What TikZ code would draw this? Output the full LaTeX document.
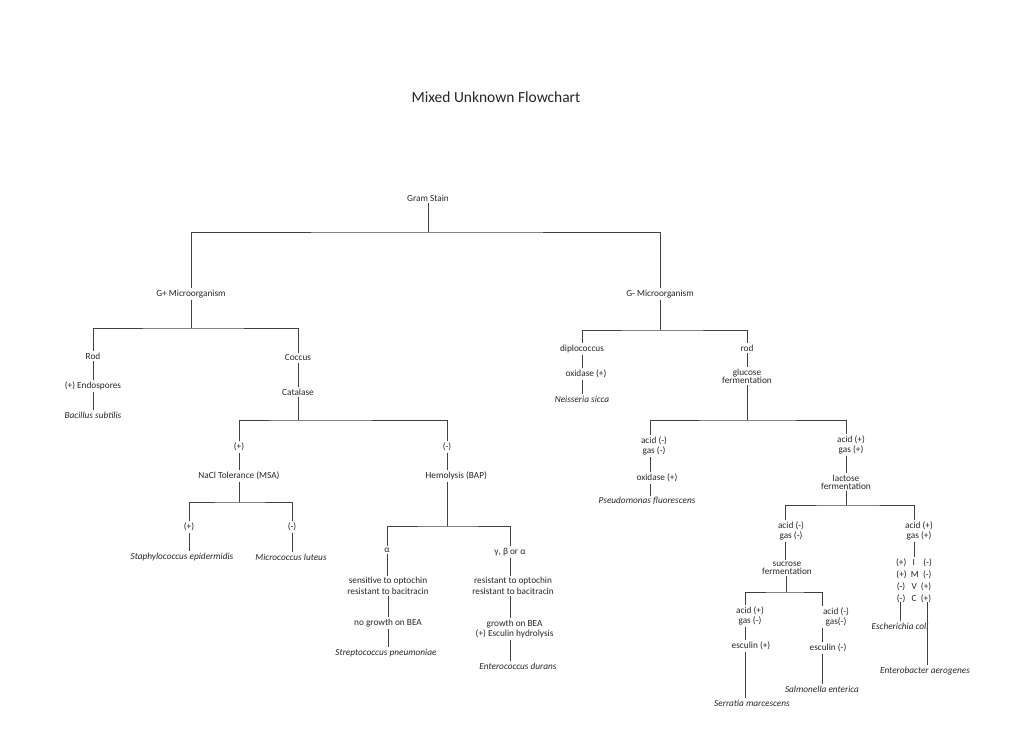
\documentclass[tikz,border=0pt]{standalone}
\usepackage{fontspec}
\setmainfont{Carlito}
\begin{document}
\begin{tikzpicture}[x=0.025cm,y=-0.025cm,
  every node/.style={font=\fontsize{6.6}{7.6}\selectfont, inner sep=1pt, align=center, text=black!85},
  sp/.style={font=\fontsize{6.6}{7.6}\selectfont\itshape},
  ln/.style={draw=black!75, line width=0.6pt}]
\useasboundingbox (0,0) rectangle (1024,729);
\node[font=\fontsize{11}{13}\selectfont] (title) at (496,97) {Mixed Unknown Flowchart};

% top levels
\node (gram) at (428,198) {Gram Stain};
\node (gpos) at (191,294) {G+ Microorganism};
\node (gneg) at (660,294) {G- Microorganism};
\coordinate (j1) at (428,232);
\draw[ln] (gram) -- (j1);
\draw[ln] (gpos.north) |- (j1) -| (gneg.north);

% gram positive
\node (rod) at (93,356) {Rod};
\node (coccus) at (298,358) {Coccus};
\coordinate (j2) at (191,328);
\draw[ln] (gpos) -- (j2);
\draw[ln] (rod.north) |- (j2) -| (coccus.north);
\node (endo) at (93,386) {(+) Endospores};
\node[sp] (bsub) at (93,415) {Bacillus subtilis};
\draw[ln] (rod) -- (endo);
\draw[ln] (endo) -- (bsub);
\node (cat) at (298,392) {Catalase};
\draw[ln] (coccus) -- (cat);
\node (catp) at (239,447) {(+)};
\node (catn) at (447,447) {(-)};
\coordinate (j3) at (298,420);
\draw[ln] (cat) -- (j3);
\draw[ln] (catp.north) |- (j3) -| (catn.north);
\node (nacl) at (239,476) {NaCl Tolerance (MSA)};
\node[anchor=west] (hemo) at (424,476) {Hemolysis (BAP)};
\draw[ln] (catp) -- (nacl);
\draw[ln] (catn.south) -- (catn.south |- hemo.north);
\node (naclp) at (189,527) {(+)};
\node (nacln) at (292,527) {(-)};
\coordinate (j4) at (239,502);
\draw[ln] (nacl) -- (j4);
\draw[ln] (naclp.north) |- (j4) -| (nacln.north);
\node[sp] (sepi) at (182,557) {Staphylococcus epidermidis};
\node[sp] (mlut) at (291,557) {Micrococcus luteus};
\draw[ln] (naclp) -- (naclp |- sepi.north);
\draw[ln] (nacln) -- (nacln |- mlut.north);
\node (alpha) at (387,550) {α};
\node (gba) at (510,552) {γ, β or α};
\coordinate (j5) at (447,526);
\draw[ln] (catn.south |- hemo.south) -- (j5);
\draw[ln] (alpha.north) |- (j5) -| (gba.north);
\node (sens) at (388,586) {sensitive to optochin\\resistant to bacitracin};
\node (res) at (513,586) {resistant to optochin\\resistant to bacitracin};
\draw[ln] (alpha) -- (alpha |- sens.north);
\draw[ln] (gba) -- (gba |- res.north);
\node (nobea) at (388,623) {no growth on BEA};
\node[anchor=north west] (bea) at (474,618) {growth on BEA\\(+) Esculin hydrolysis};
\draw[ln] (sens) -- (sens |- nobea.north);
\draw[ln] (res.south -| gba) -- (gba |- bea.north);
\node[sp] (spne) at (386,653) {Streptococcus pneumoniae};
\node[sp] (edur) at (518,666) {Enterococcus durans};
\draw[ln] (nobea) -- (nobea |- spne.north);
\draw[ln] (bea.south -| gba) -- (gba |- edur.north);

% gram negative
\node (dip) at (582,349) {diplococcus};
\node (grod) at (747,348) {rod};
\coordinate (j6) at (660,330);
\draw[ln] (gneg) -- (j6);
\draw[ln] (dip.north) |- (j6) -| (grod.north);
\node (oxd) at (586,374) {oxidase (+)};
\node[sp] (nsic) at (582,399) {Neisseria sicca};
\draw[ln] (dip) -- (dip |- oxd.north);
\draw[ln] (dip |- oxd.south) -- (dip |- nsic.north);
\node (glu) at (747,376) {glucose\\[-2pt]fermentation};
\draw[ln] (grod) -- (glu);
\node (ag1) at (654,446) {acid (-)\\gas (-)};
\node (ag2) at (851,445) {acid (+)\\gas (+)};
\coordinate (j7) at (747,420);
\draw[ln] (glu) -- (j7);
\draw[ln] (ag1.north -| 650,0) |- (j7) -| (ag2.north -| 846,0);
\node (oxr) at (657,478) {oxidase (+)};
\node[sp] (pflu) at (647,501) {Pseudomonas fluorescens};
\draw[ln] (ag1.south -| 650,0) -- (oxr.north -| 650,0);
\draw[ln] (oxr.south -| 650,0) -- (pflu.north -| 650,0);
\node (lac) at (846,482) {lactose\\[-2pt]fermentation};
\draw[ln] (ag2.south -| lac) -- (lac);
\node (ag3) at (791,531) {acid (-)\\gas (-)};
\node (ag4) at (919,531) {acid (+)\\gas (+)};
\coordinate (j8) at (846,505);
\draw[ln] (lac) -- (j8);
\draw[ln] (ag3.north -| 785,0) |- (j8) -| (ag4.north -| 914,0);
\node (suc) at (787,568) {sucrose\\[-2pt]fermentation};
\draw[ln] (ag3.south -| 785,0) -- (suc.north -| 785,0);
\node[font=\fontsize{6.6}{8.6}\selectfont] (imvic) at (914,581) {(+)\ \ \ I\ \ \ \ (-)\\(+)\ \ M\ \ (-)\\(-)\ \ \ V\ \ (+)\\(-)\ \ \ C\ \ (+)};
\draw[ln] (ag4.south -| 914,0) -- (imvic.north -| 914,0);
\node[sp] (ecol) at (900,626) {Escherichia coli};
\node[sp] (eaer) at (925,671) {Enterobacter aerogenes};
\coordinate (ec) at (900,602);
\coordinate (ea) at (927,602);
\draw[ln] (ec) -- (ecol.north -| ec);
\draw[ln] (ea) -- (eaer.north -| ea);
\node (ag5) at (750,616) {acid (+)\\gas (-)};
\node (ag6) at (836,617) {acid (-)\\gas(-)};
\coordinate (j9) at (786,592);
\draw[ln] (suc.south -| j9) -- (j9);
\draw[ln] (ag5.north -| 745,0) |- (j9) -| (ag6.north -| 822,0);
\node (esp) at (751,646) {esculin (+)};
\node (esn) at (828,648) {esculin (-)};
\draw[ln] (ag5.south -| 745,0) -- (esp.north -| 745,0);
\draw[ln] (ag6.south -| 822,0) -- (esn.north -| 822,0);
\node[sp] (smar) at (752,703) {Serratia marcescens};
\node[sp] (sent) at (822,689) {Salmonella enterica};
\draw[ln] (esp.south -| 745,0) -- (smar.north -| 745,0);
\draw[ln] (esn.south -| 822,0) -- (sent.north -| 822,0);
\end{tikzpicture}
\end{document}
